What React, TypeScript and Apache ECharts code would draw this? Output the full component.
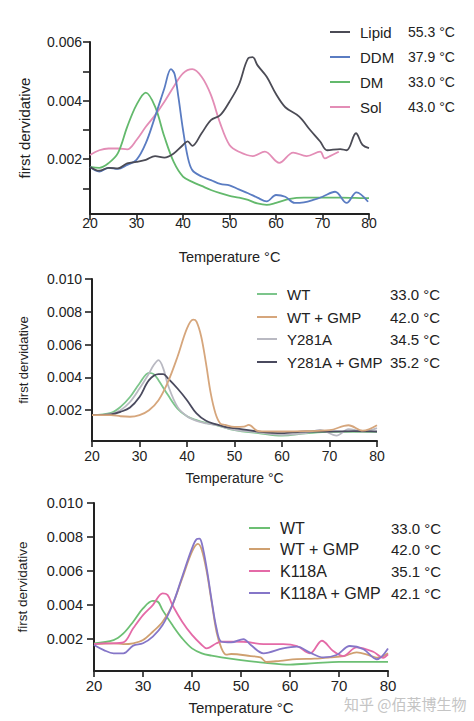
import React, { useEffect, useRef } from "react";
import * as echarts from "echarts";

// ---------- Panel 1 data ----------
const lipidT = [20, 22, 24, 26, 28, 30, 32, 34, 36, 38, 40, 41, 42, 44, 46, 48, 50, 52, 54, 55, 56, 58, 60, 62, 65, 67.3, 69.5, 71, 73.8, 75.2, 77.2, 78.6, 80];
const lipidV = [0.00173, 0.0016, 0.0017, 0.00168, 0.00185, 0.0019, 0.00197, 0.0021, 0.00205, 0.00219, 0.00248, 0.0026, 0.00245, 0.00288, 0.00333, 0.0035, 0.00396, 0.00453, 0.00544, 0.00548, 0.00521, 0.00481, 0.00422, 0.00377, 0.00345, 0.003, 0.0026, 0.0023, 0.00234, 0.0023, 0.00288, 0.00248, 0.00237];
const ddmT = [20, 22, 24, 26, 28, 30, 32, 34, 36, 37.4, 38.2, 39, 40, 41, 42, 44, 46, 48, 50, 52, 54, 56, 58, 60, 62, 64, 66, 68, 70, 72.7, 75.2, 77.3, 79.8];
const ddmV = [0.00173, 0.00157, 0.0017, 0.00166, 0.0018, 0.00197, 0.00254, 0.00345, 0.00442, 0.00507, 0.0049, 0.00413, 0.003, 0.00208, 0.00162, 0.0014, 0.00128, 0.00115, 0.0011, 0.00096, 0.00083, 0.00068, 0.00055, 0.00077, 0.00071, 0.0005, 0.00052, 0.0006, 0.00071, 0.00088, 0.0005, 0.00086, 0.00054];
const dmT = [20, 22, 24, 26, 28, 30, 32, 34, 36, 38, 40, 42, 44, 46, 48, 50, 52, 54, 56, 58, 60, 63, 66, 70, 74, 77, 80];
const dmV = [0.00173, 0.0017, 0.00186, 0.0022, 0.0031, 0.00385, 0.00427, 0.00379, 0.00276, 0.0019, 0.0014, 0.00122, 0.00108, 0.00094, 0.00083, 0.00074, 0.00068, 0.0006, 0.00048, 0.00043, 0.0005, 0.00064, 0.00068, 0.00068, 0.00068, 0.00067, 0.00066];
const solT = [20, 22, 24, 26, 28, 30, 32, 34, 36, 38, 40, 42, 44, 46, 48, 50, 52, 55, 57.6, 60.7, 63.7, 66.6, 69.5, 70.5, 71.6, 73.5];
const solV = [0.00214, 0.0023, 0.00236, 0.00236, 0.00233, 0.00265, 0.0031, 0.0035, 0.00396, 0.00447, 0.00493, 0.00507, 0.00481, 0.00419, 0.00322, 0.00248, 0.00225, 0.0021, 0.00225, 0.00187, 0.00222, 0.0021, 0.00225, 0.00202, 0.0021, 0.00225];

// ---------- Panel 2 data ----------
const wt2T = [20, 24, 26, 28, 30, 32, 33, 34, 36, 38, 40, 42, 44, 46, 50, 55, 60, 65, 70, 75, 80];
const wt2V = [0.0017, 0.00184, 0.0022, 0.0028, 0.00363, 0.00428, 0.0042, 0.00383, 0.00292, 0.0021, 0.00163, 0.00139, 0.00122, 0.0011, 0.00078, 0.0006, 0.00045, 0.00058, 0.00068, 0.00068, 0.00068];
const wtGmp2T = [20, 24, 26, 28, 30, 32, 34, 36, 38, 40, 41.3, 42, 43, 44, 45, 46, 47, 48, 50, 52, 53, 55, 60, 65, 70, 74, 77, 80];
const wtGmp2V = [0.0017, 0.0017, 0.00163, 0.0016, 0.0017, 0.002, 0.00261, 0.00373, 0.00526, 0.00699, 0.00752, 0.0074, 0.00648, 0.00485, 0.00302, 0.0018, 0.00119, 0.0011, 0.00098, 0.001, 0.0011, 0.00072, 0.0007, 0.00072, 0.00078, 0.00108, 0.00075, 0.00108];
const y281T = [20, 24, 26, 28, 30, 32, 33, 34, 35, 36, 38, 40, 42, 44, 46, 50, 55, 60, 65, 68, 71.5, 74, 77, 80];
const y281V = [0.0017, 0.00178, 0.002, 0.0025, 0.00332, 0.00424, 0.00475, 0.00505, 0.00455, 0.00353, 0.0022, 0.00163, 0.00135, 0.0012, 0.0011, 0.0008, 0.00065, 0.0005, 0.0006, 0.0008, 0.00045, 0.00085, 0.0007, 0.0009];
const y281GmpT = [20, 24, 26, 28, 30, 32, 34, 35, 36, 38, 40, 42, 44, 46, 48, 50, 55, 60, 65, 70, 75, 80];
const y281GmpV = [0.0017, 0.00175, 0.0019, 0.00216, 0.0028, 0.00383, 0.0042, 0.0042, 0.00394, 0.00332, 0.00261, 0.0018, 0.00135, 0.00115, 0.00098, 0.0009, 0.0007, 0.0006, 0.0007, 0.0007, 0.00072, 0.0007];

// ---------- Panel 3 data ----------
const wt3T = [20, 24, 26, 28, 30, 32, 33, 34, 36, 38, 40, 42, 44, 46, 50, 55, 60, 65, 70, 75, 80];
const wt3V = [0.00175, 0.00194, 0.00233, 0.00302, 0.0038, 0.00424, 0.0042, 0.0037, 0.00282, 0.00204, 0.00145, 0.00116, 0.00102, 0.00092, 0.00076, 0.0006, 0.0005, 0.00058, 0.00066, 0.00066, 0.00066];
const wtGmp3T = [20, 24, 26, 28, 30, 32, 34, 36, 38, 40, 41.2, 42, 43, 44, 45, 46, 47, 48, 52, 54, 55.2, 58, 61.4, 65, 68.2, 71, 73.6, 76.3, 78, 80];
const wtGmp3V = [0.0017, 0.00175, 0.0017, 0.00175, 0.00194, 0.00243, 0.00302, 0.004, 0.00557, 0.00714, 0.0076, 0.00724, 0.00596, 0.00419, 0.00243, 0.00147, 0.00108, 0.00112, 0.001, 0.00092, 0.00065, 0.00072, 0.00082, 0.00085, 0.00092, 0.001, 0.00122, 0.00103, 0.0009, 0.00116];
const k118T = [20, 22, 24, 26, 28, 30, 32, 34, 35, 36, 38, 40, 42, 43, 45, 46, 48, 50.5, 54.6, 58.6, 61.4, 64.1, 66.5, 68.8, 70.8, 73.6, 77, 79, 80];
const k118V = [0.0017, 0.00175, 0.00175, 0.0018, 0.00263, 0.00341, 0.004, 0.00469, 0.0046, 0.004, 0.00302, 0.00224, 0.00165, 0.00145, 0.00175, 0.00185, 0.00185, 0.00184, 0.0017, 0.0017, 0.00159, 0.00116, 0.0019, 0.0013, 0.001, 0.00151, 0.00125, 0.0009, 0.0011];
const k118GmpT = [20, 22, 24, 26, 28, 30, 32, 34, 36, 38, 40, 41, 41.5, 42, 43, 44, 45, 46, 48, 50.5, 52, 54.6, 58.6, 61.4, 64.1, 66.8, 69.5, 72.2, 75, 77.7, 80];
const k118GmpV = [0.00165, 0.00135, 0.00116, 0.00116, 0.00161, 0.00175, 0.00214, 0.00282, 0.004, 0.00566, 0.00733, 0.00788, 0.0079, 0.00763, 0.00616, 0.00429, 0.00263, 0.00184, 0.0018, 0.002, 0.00165, 0.00116, 0.00145, 0.00155, 0.0012, 0.00092, 0.00106, 0.00159, 0.0014, 0.00081, 0.00145];

// ---------- Legends / labels ----------
const legend1Names = ["Lipid", "DDM", "DM", "Sol"];
const legend1Tm = ["55.3 °C", "37.9 °C", "33.0 °C", "43.0 °C"];
const legend2Names = ["WT", "WT + GMP", "Y281A", "Y281A + GMP"];
const legend2Tm = ["33.0 °C", "42.0 °C", "34.5 °C", "35.2 °C"];
const legend3Names = ["WT", "WT + GMP", "K118A", "K118A + GMP"];
const legend3Tm = ["33.0 °C", "42.0 °C", "35.1 °C", "42.1 °C"];

const yTicks1 = [0.001, 0.002, 0.003, 0.004, 0.005, 0.006];
const yLabels1 = [0.002, 0.004, 0.006];
const yTicks23 = [0.002, 0.004, 0.006, 0.008, 0.01];

const colors1 = ["#4b4b55", "#5a7cc2", "#63b96c", "#e38db6"];
const colors2 = ["#7cc58b", "#d6a67c", "#b9b9c2", "#4a4a5e"];
const colors3 = ["#6cbf73", "#cfa070", "#e46aa7", "#8576c8"];

const FONT = "'Liberation Sans', Arial, Helvetica, sans-serif";
const INK = "#222";

function App() {
  const ref = useRef<HTMLDivElement>(null);

  useEffect(() => {
    if (!ref.current) return;
    const chart = echarts.init(ref.current, undefined, { renderer: "svg" });

    const pts = (t: number[], v: number[]) => t.map((x, i) => [x, v[i]]);

    const mkLine = (name: string, t: number[], v: number[], color: string, idx: number) => ({
      name,
      type: "line",
      xAxisIndex: idx,
      yAxisIndex: idx,
      data: pts(t, v),
      smooth: 0.35,
      showSymbol: false,
      symbol: "none",
      lineStyle: { color, width: 1.8 },
      itemStyle: { color },
      z: 2,
    });

    const xAxisCfg = (idx: number, labelMargin: number, nameGap: number, fs: number, nfs: number) => ({
      type: "value",
      gridIndex: idx,
      min: 20,
      max: 80,
      interval: 10,
      axisLine: { show: true, onZero: false, lineStyle: { color: INK, width: 2 } },
      axisTick: { show: true, length: 6, lineStyle: { color: INK, width: 1.6 } },
      axisLabel: { fontSize: fs, color: INK, margin: labelMargin, fontFamily: FONT },
      splitLine: { show: false },
      name: "Temperature °C",
      nameLocation: "middle",
      nameGap,
      nameTextStyle: { fontSize: nfs, color: INK, fontFamily: FONT },
    });

    const yAxisCfg = (
      idx: number,
      max: number,
      ticks: number[],
      labels: number[],
      labelMargin: number,
      nameGap: number,
      fs: number,
      nfs: number
    ) => ({
      type: "value",
      gridIndex: idx,
      min: 0.00012,
      max,
      axisLine: { show: true, onZero: false, lineStyle: { color: INK, width: 2 } },
      axisTick: { show: true, length: 7, customValues: ticks, lineStyle: { color: INK, width: 1.6 } },
      axisLabel: {
        customValues: labels,
        fontSize: fs,
        color: INK,
        margin: labelMargin,
        fontFamily: FONT,
        formatter: (v: number) => v.toFixed(3),
      },
      splitLine: { show: false },
      name: "first dervidative",
      nameLocation: "middle",
      nameGap,
      nameTextStyle: { fontSize: nfs, color: INK, fontFamily: FONT },
    });

    const legendGraphics = (
      names: string[],
      tms: string[],
      colors: string[],
      lx1: number,
      lx2: number,
      nx: number,
      vx: number,
      ys: number[],
      nfs: number,
      vfs: number
    ) => {
      const out: any[] = [];
      names.forEach((n, i) => {
        out.push({
          type: "line",
          shape: { x1: lx1, y1: ys[i], x2: lx2, y2: ys[i] },
          style: { stroke: colors[i], lineWidth: 2 },
        });
        out.push({
          type: "text",
          x: nx,
          y: ys[i],
          style: { text: n, fill: INK, fontSize: nfs, fontFamily: FONT, verticalAlign: "middle", align: "left" },
        });
        out.push({
          type: "text",
          x: vx,
          y: ys[i],
          style: { text: tms[i], fill: INK, fontSize: vfs, fontFamily: FONT, verticalAlign: "middle", align: "left" },
        });
      });
      return out;
    };

    const option: any = {
      animation: false,
      backgroundColor: "#ffffff",
      textStyle: { fontFamily: FONT },
      grid: [
        { left: 90, top: 42, width: 279, height: 172 },
        { left: 92, top: 279, width: 285, height: 162 },
        { left: 94, top: 503, width: 294, height: 168 },
      ],
      xAxis: [
        xAxisCfg(0, 2, 35, 14, 14.5),
        xAxisCfg(1, 8, 30, 14, 14),
        xAxisCfg(2, 7, 29, 15, 15),
      ],
      yAxis: [
        yAxisCfg(0, 0.006, yTicks1, yLabels1, 8, 58, 14, 15),
        yAxisCfg(1, 0.01, yTicks23, yTicks23, 10, 62, 14, 13),
        yAxisCfg(2, 0.01, yTicks23, yTicks23, 11, 65, 14.5, 13.5),
      ],
      series: [
        mkLine("Sol", solT, solV, colors1[3], 0),
        mkLine("DM", dmT, dmV, colors1[2], 0),
        mkLine("DDM", ddmT, ddmV, colors1[1], 0),
        mkLine("Lipid", lipidT, lipidV, colors1[0], 0),

        mkLine("WT", wt2T, wt2V, colors2[0], 1),
        mkLine("Y281A", y281T, y281V, colors2[2], 1),
        mkLine("Y281A + GMP", y281GmpT, y281GmpV, colors2[3], 1),
        mkLine("WT + GMP", wtGmp2T, wtGmp2V, colors2[1], 1),

        mkLine("WT ", wt3T, wt3V, colors3[0], 2),
        mkLine("WT + GMP ", wtGmp3T, wtGmp3V, colors3[1], 2),
        mkLine("K118A", k118T, k118V, colors3[2], 2),
        mkLine("K118A + GMP", k118GmpT, k118GmpV, colors3[3], 2),
      ],
      graphic: [
        ...legendGraphics(legend1Names, legend1Tm, colors1, 330, 350, 360, 408, [32, 57, 82, 107], 15, 14),
        ...legendGraphics(legend2Names, legend2Tm, colors2, 257, 277, 287, 390, [294, 317, 339, 362], 15, 15),
        ...legendGraphics(legend3Names, legend3Tm, colors3, 249, 270, 280, 391, [528, 549, 571, 593], 16, 15),
        {
          type: "text",
          x: 344,
          y: 703,
          style: {
            text: "知乎 @佰莱博生物",
            fill: "#c4c4c4",
            fontSize: 15,
            fontFamily: "'Noto Sans CJK SC', sans-serif",
            verticalAlign: "middle",
            align: "left",
          },
        },
      ],
    };

    chart.setOption(option);
    return () => chart.dispose();
  }, []);

  return (
    <div
      ref={ref}
      style={{ position: "absolute", left: 0, top: 0, width: 474, height: 721, background: "#fff" }}
    />
  );
}

export default App;
